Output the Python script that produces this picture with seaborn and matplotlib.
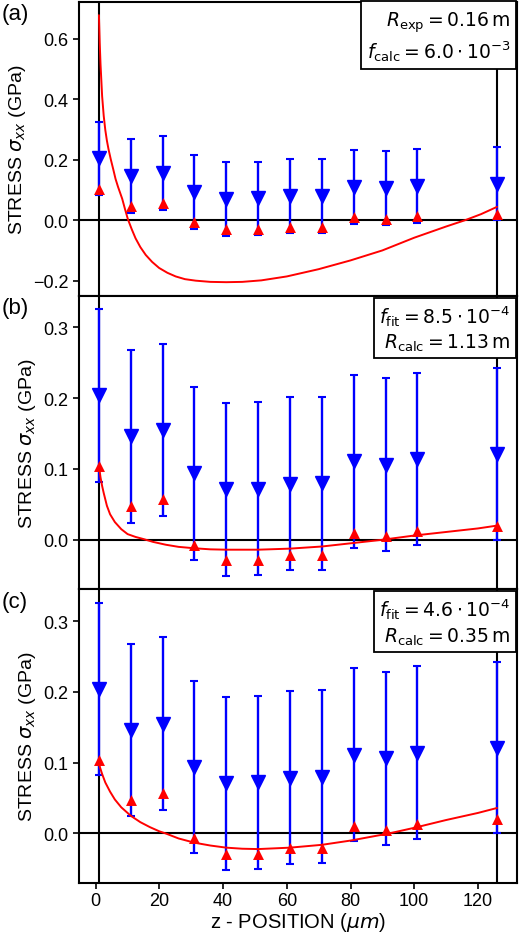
import matplotlib
matplotlib.use("Agg")
import matplotlib.pyplot as plt
import seaborn as sns

# measured points (same in all three panels)
z_pos = [1, 11, 21, 31, 41, 51, 61, 71, 81, 91, 101, 126]
sig_blue = [0.204, 0.146, 0.155, 0.094, 0.071, 0.072, 0.079, 0.080, 0.111, 0.106, 0.114, 0.121]
err_blue = [0.122, 0.122, 0.122, 0.122, 0.122, 0.122, 0.122, 0.122, 0.122, 0.122, 0.122, 0.121]
sig_red = [0.104, 0.047, 0.057, -0.007, -0.029, -0.029, -0.021, -0.021, 0.010, 0.005, 0.013, 0.020]

# model curves
curve_a_x = [1, 1.25, 1.5, 2, 2.5, 3, 3.5, 4, 4.7, 5.5, 6.2, 7, 8.3, 9.2, 10.1, 11.3, 12.5, 14, 15.7,
             17.7, 19.9, 22.5, 25.1, 28, 31.4, 36, 41, 46, 52, 60, 70, 80, 90, 100, 110, 116, 121, 126]
curve_a_y = [0.678, 0.585, 0.515, 0.41, 0.345, 0.298, 0.263, 0.235, 0.202, 0.168, 0.137, 0.11, 0.071,
             0.036, 0.003, -0.03, -0.06, -0.089, -0.115, -0.138, -0.158, -0.174, -0.186, -0.195, -0.200,
             -0.204, -0.205, -0.204, -0.199, -0.186, -0.162, -0.133, -0.100, -0.058, -0.021, 0.0, 0.02, 0.044]
curve_b_x = [1, 1.5, 2, 2.5, 3.5, 4.5, 6, 8, 10, 12.5, 15, 18, 22, 26, 31, 36, 41, 51, 61, 71, 80, 90,
             100, 110, 120, 126]
curve_b_y = [0.104, 0.088, 0.076, 0.066, 0.048, 0.036, 0.025, 0.015, 0.008, 0.004, 0.001, -0.003,
             -0.007, -0.010, -0.012, -0.0135, -0.014, -0.014, -0.0125, -0.0095, -0.005, 0.0, 0.006,
             0.011, 0.016, 0.020]
curve_c_x = [1, 2, 3, 4.5, 6, 8, 11, 14, 17, 20, 22, 26, 31, 36, 41, 46, 51, 61, 71, 80, 92, 100, 110,
             120, 126]
curve_c_y = [0.098, 0.084, 0.072, 0.059, 0.048, 0.037, 0.025, 0.016, 0.009, 0.003, 0.0, -0.007, -0.013,
             -0.017, -0.020, -0.0215, -0.022, -0.020, -0.016, -0.010, 0.0, 0.008, 0.019, 0.029, 0.036]

panel_tags = ['(a)', '(b)', '(c)']
box_texts = [r'$R_{\rm exp} = 0.16\,{\rm m}$' + '\n' + r'$f_{\rm calc} = 6.0\cdot10^{-3}$',
             r'$f_{\rm fit} = 8.5\cdot10^{-4}$' + '\n' + r'$R_{\rm calc} = 1.13\,{\rm m}$',
             r'$f_{\rm fit} = 4.6\cdot10^{-4}$' + '\n' + r'$R_{\rm calc} = 0.35\,{\rm m}$']
curves = [(curve_a_x, curve_a_y), (curve_b_x, curve_b_y), (curve_c_x, curve_c_y)]

sns.set_style('ticks', {'axes.edgecolor': 'black', 'xtick.color': 'black', 'ytick.color': 'black',
                        'text.color': 'black', 'axes.labelcolor': 'black'})
plt.rcParams['font.family'] = ['Liberation Sans', 'DejaVu Sans']
plt.rcParams['axes.linewidth'] = 1.5

fig, axes = plt.subplots(3, 1, figsize=(5.2, 9.37), dpi=100, sharex=True)
fig.subplots_adjust(left=0.152, right=0.994, top=0.997, bottom=0.0566, hspace=0)

for i, ax in enumerate(axes):
    ax.axvline(z_pos[0], color='black', lw=1.5, zorder=1)
    ax.axvline(z_pos[-1], color='black', lw=1.5, zorder=1)
    ax.axhline(0, color='black', lw=1.5, zorder=1)
    ax.errorbar(z_pos, sig_blue, yerr=err_blue, fmt='v', color='blue', ms=9.5, lw=1.7,
                capsize=2.8, capthick=1.5, zorder=2)
    cx, cy = curves[i]
    sns.lineplot(x=cx, y=cy, color='red', lw=1.4, ax=ax, zorder=3)
    sns.scatterplot(x=z_pos, y=sig_red, marker='^', color='red', s=62, linewidth=0, ax=ax, zorder=4)
    ax.text(0.985, 0.975, box_texts[i], transform=ax.transAxes, ha='right', va='top', fontsize=13.5,
            linespacing=1.25,
            bbox=dict(boxstyle='square,pad=0.28', fc='white', ec='black', lw=1.3), zorder=5)
    ax.text(-0.176, 0.959, panel_tags[i], transform=ax.transAxes, ha='left', va='center', fontsize=16)
    ax.set_ylabel(r'STRESS $\sigma_{xx}$ (GPa)', fontsize=14)
    ax.tick_params(axis='both', labelsize=13, width=1.2, length=4)
    if i < 2:
        ax.tick_params(axis='x', bottom=False)

axes[2].set_xlabel(r'z - POSITION ($\mu m$)', fontsize=14.5, labelpad=0.5)
axes[2].set_xticks([0, 20, 40, 60, 80, 100, 120])
axes[2].tick_params(axis='x', pad=2.5)

fig.savefig('out.png', dpi=100)
